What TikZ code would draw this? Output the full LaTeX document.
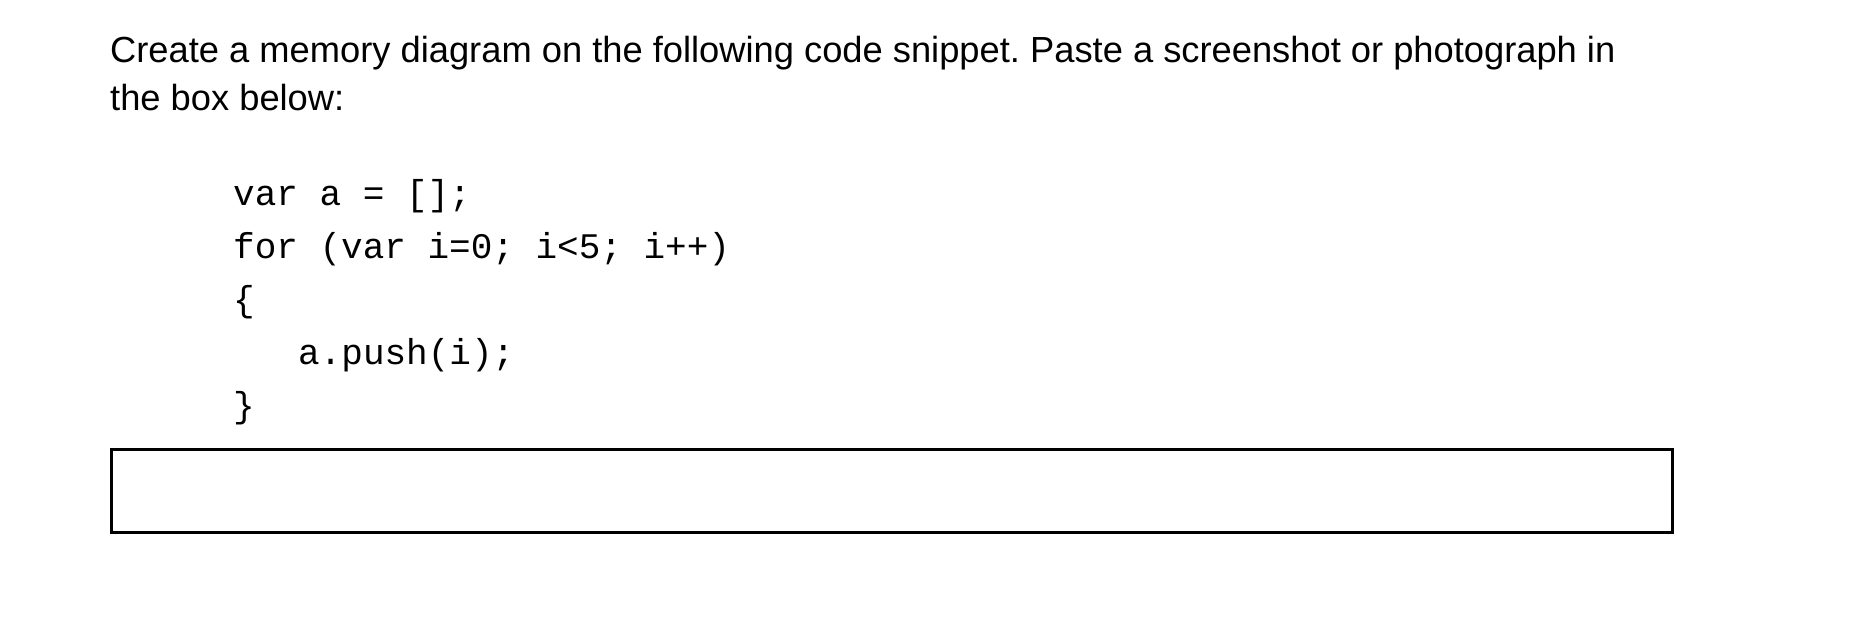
\documentclass[tikz,border=0pt]{standalone}
\usepackage{fontspec}
\setmainfont{Liberation Sans}
\newfontfamily\codefont{Liberation Mono}
\frenchspacing
\begin{document}
\begin{tikzpicture}[x=1pt,y=-1pt,
  title/.style={anchor=base west,inner sep=0pt,font=\fontsize{36.3}{42}\selectfont},
  code/.style={anchor=base west,inner sep=0pt,font=\codefont\fontsize{36}{40}\selectfont}]
\useasboundingbox[fill=white] (0,0) rectangle (1855,621);
\node[title] (t1) at (110,62) {Create a memory diagram on the following code snippet. Paste a screenshot or photograph in};
\node[title] (t2) at (110,110) {the box below:};
\node[code] (c1) at (233,205) {var a = [];};
\node[code] (c2) at (233,258) {for (var i=0; i<5; i++)};
\node[code] (c3) at (233,311) {\{};
\node[code] (c4) at (298,364) {a.push(i);};
\node[code] (c5) at (233,417) {\}};
\draw[line width=3pt] (111,449) rectangle (1672,532);
\end{tikzpicture}
\end{document}
